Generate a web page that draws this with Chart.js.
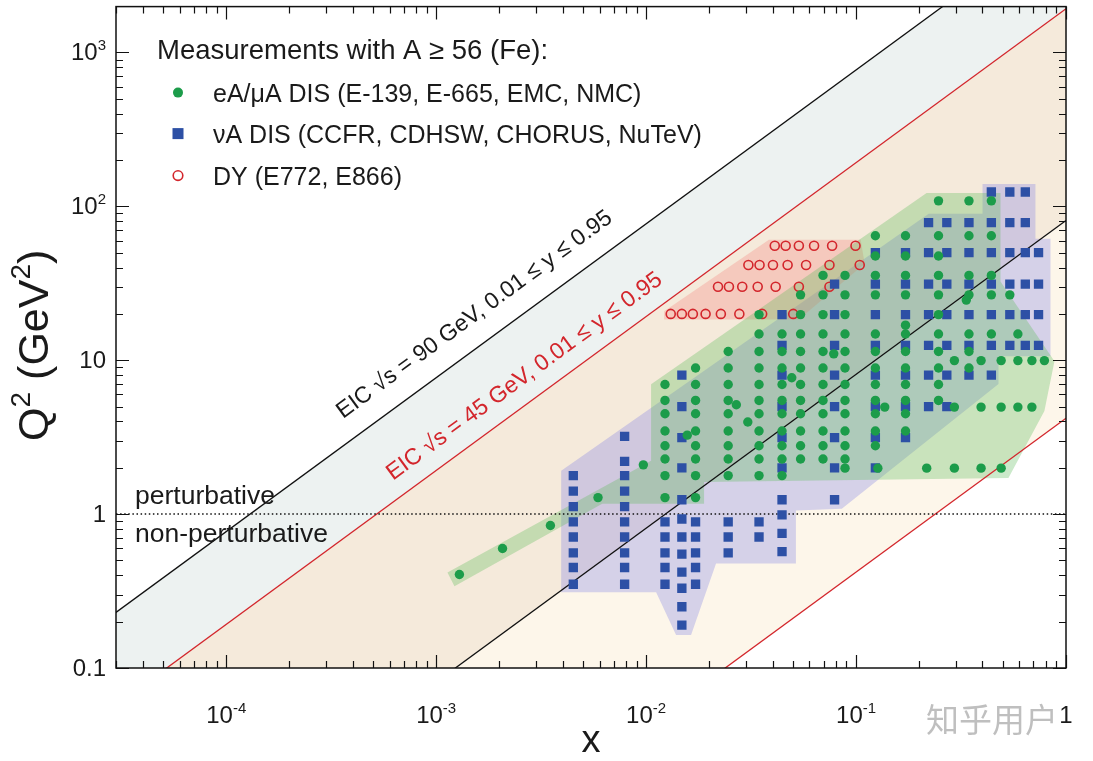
<!DOCTYPE html>
<html><head><meta charset="utf-8">
<script src="https://cdn.jsdelivr.net/npm/chart.js@4.4.1/dist/chart.umd.min.js"></script>
<style>html,body{margin:0;padding:0;background:#fff;}#wrap{width:1093px;height:761px;}</style>
</head><body><div id="wrap"><canvas id="c" width="1093" height="761"></canvas></div>
<script>
// ---------- axis ranges ----------
const xRange = [2.985e-5, 1];
const yRange = [0.1, 1987];
const xTickValues = [1e-4, 1e-3, 1e-2, 1e-1, 1];
const xTickLabels = ['10^-4', '10^-3', '10^-2', '10^-1', '1'];
const yTickValues = [0.1, 1, 10, 100, 1000];
const yTickLabels = ['0.1', '1', '10', '10^2', '10^3'];

// ---------- EIC kinematic limits (x, Q2) ----------
const eic90UpperX = [1e-5, 1];      const eic90UpperQ2 = [0.077, 7700];
const eic45UpperX = [1e-5, 1];      const eic45UpperQ2 = [0.0192, 1924];
const eic90LowerX = [1e-5, 1];      const eic90LowerQ2 = [0.00081, 81];
const eic45LowerX = [1e-5, 1];      const eic45LowerQ2 = [0.000042, 4.2];
const perturbX = [2.985e-5, 1];     const perturbQ2 = [1, 1];

// ---------- eA / muA DIS (green) : x columns and Q2 values ----------
const greenX = [0.00129, 0.00207, 0.0035, 0.0059, 0.0097, 0.0123, 0.0157, 0.0172, 0.0246, 0.0269, 0.0305, 0.0345, 0.0444, 0.0494, 0.0544, 0.0696, 0.0783, 0.0886, 0.1236, 0.127, 0.137, 0.172, 0.217, 0.247, 0.294, 0.335, 0.345, 0.394, 0.441, 0.491, 0.54, 0.59, 0.688, 0.789];
const greenQ2 = [
 [0.405],[0.598],[0.843],[1.28],[2.09],
 [6.96,5.48,4.49,3.47,2.78,2.28,1.78,1.28],
 [3.26],
 [8.9,6.96,5.48,4.49,3.47,2.78,2.28,1.78,1.28],
 [11.4,8.9,6.96,5.48,4.49,3.47,2.78,2.28,1.78],
 [5.14],[3.97],
 [19.8,14.8,11.4,8.9,6.96,5.48,4.49,3.47,2.78,2.28,1.78],
 [14.8,11.4,8.9,6.96,5.48,4.49,3.47,2.78,2.28,1.78],
 [7.7],
 [26.6,19.8,14.8,11.4,8.9,6.96,5.48,4.49,3.47,2.78,2.28],
 [35.6,26.6,19.8,14.8,11.4,8.9,6.96,5.48,4.49,3.47,2.78,2.28],
 [11.0],
 [35.6,26.6,19.8,14.8,11.4,8.9,6.96,5.48,4.49,3.47,2.78,2.28,1.99],
 [64.4,47.6,35.6,26.6,14.8,11.4,8.9,6.96,5.48,4.49,3.47,2.78],
 [1.99],[4.96],
 [64.4,47.6,35.6,26.6,16.9,14.8,11.4,8.9,6.96,5.48,4.49,3.47],
 [1.99],
 [108.6,64.4,47.6,35.6,26.6,19.8,14.8,11.4,8.9,6.96,5.48],
 [9.95,4.96,1.99],
 [24.6],
 [108.6,64.4,35.6,26.6,14.8,11.4,8.9],
 [9.95,4.96,1.99],
 [108.6,64.4,35.6,26.6,14.8],
 [9.95,4.96,1.99],
 [26.6],
 [14.8,9.95,4.96],
 [9.95,4.96],
 [9.95]
];

// ---------- nuA DIS (blue) ----------
const blueX = [0.0045, 0.0079, 0.0123, 0.0148, 0.0172, 0.0246, 0.0345, 0.0444, 0.079, 0.1236, 0.172, 0.2215, 0.2706, 0.345, 0.441, 0.54, 0.64, 0.74];
const blueQ2 = [
 [1.78,1.41,1.12,0.89,0.71,0.56,0.45,0.35],
 [3.2,2.2,1.78,1.41,1.12,0.89,0.71,0.56,0.45,0.35],
 [0.89,0.71,0.56,0.45,0.35],
 [8.0,5.0,3.14,2.0,1.24,0.93,0.71,0.55,0.42,0.33,0.25,0.19],
 [0.89,0.71,0.56,0.45,0.35],
 [0.89,0.71,0.56],
 [0.89,0.71],
 [19.8,12.5,8.0,5.0,3.14,2.0,1.24,0.99,0.75,0.57],
 [31.2,19.8,12.5,8.0,5.0,3.14,2.0,1.24],
 [50,31.2,19.8,12.5,8.0,5.0,3.14,2.0],
 [50,31.2,19.8,12.5,8.0,5.0,3.14],
 [78.5,50,31.2,19.8,12.5,8.0,5.0],
 [78.5,50,31.2,19.8,12.5,8.0,5.0],
 [78.5,50,31.2,19.8,12.5,8.0],
 [124,78.5,50,31.2,19.8,12.5,8.0],
 [124,78.5,50,31.2,19.8,12.5],
 [124,78.5,50,31.2,19.8,12.5],
 [50,31.2,19.8,12.5]
];

// ---------- Drell-Yan (red open circles): Q2 rows and x values ----------
const dyQ2 = [55.5, 41.6, 30.0, 20.0];
const dyX = [
 [0.0410,0.0462,0.0534,0.0631,0.0769,0.0994],
 [0.0307,0.0347,0.0402,0.0472,0.0578,0.0747,0.1041],
 [0.0220,0.0248,0.0287,0.0340,0.0414,0.0534,0.0747],
 [0.0131,0.0148,0.0167,0.0192,0.0227,0.0278,0.0357,0.0502]
];

// ---------- shaded coverage regions (polygon vertices) ----------
const greenRegionX  = [1.222e-3, 1.132e-3, 0.01056, 0.01056, 0.2168, 0.4875, 0.4875, 0.881, 0.789, 0.532, 0.01888, 0.01888, 6.18e-3];
const greenRegionQ2 = [0.340, 0.418, 2.22, 6.99, 122, 122, 32.5, 9.85, 4.68, 1.72, 1.62, 1.17, 1.17];
const blueRegionX  = [3.94e-3, 0.2218, 0.4004, 0.4004, 0.7154, 0.7154, 0.8434, 0.8434, 0.477, 0.477, 0.0855, 0.0517, 0.0517, 0.02153, 0.01637, 0.01389, 0.01116, 3.94e-3];
const blueRegionQ2 = [1.913, 89.4, 89.4, 140, 140, 61.6, 61.6, 10.6, 10.6, 7.0, 1.085, 1.054, 0.478, 0.478, 0.1636, 0.1636, 0.3104, 0.3104];
const redRegionX  = [0.03846, 0.1052, 0.1099, 0.0534, 0.01218, 0.01218];
const redRegionQ2 = [60.7, 60.7, 42.4, 18.4, 18.4, 20.8];

// ---------- text ----------
const legendTitle = 'Measurements with A \u2265 56 (Fe):';
const legendItems = ['eA/\u03bcA DIS (E-139, E-665, EMC, NMC)', '\u03bdA DIS (CCFR, CDHSW, CHORUS, NuTeV)', 'DY (E772, E866)'];
const label90 = 'EIC \u221as = 90 GeV, 0.01 \u2264 y \u2264 0.95';
const label45 = 'EIC \u221as = 45 GeV, 0.01 \u2264 y \u2264 0.95';
const label90Pos = [3.6e-4, 4.15];
const label45Pos = [6.22e-4, 1.647];

const GREEN = '#1c9c4a', BLUE = '#2d50a5', RED = '#d3262c';
const FONT = '"Liberation Sans", Arial, Helvetica, sans-serif';

function zipXY(xs, ys) { return xs.map((x, i) => ({x, y: ys[i]})); }
function columns(xs, lists) { const out = []; xs.forEach((x, i) => lists[i].forEach(q => out.push({x, y: q}))); return out; }
function rows(ys, lists) { const out = []; ys.forEach((q, i) => lists[i].forEach(x => out.push({x, y: q}))); return out; }

const lineBase = {pointRadius: 0, pointHoverRadius: 0, tension: 0, showLine: true};

const datasets = [
  {label: 'green', data: columns(greenX, greenQ2), showLine: false, pointStyle: 'circle', pointRadius: 4.7, backgroundColor: GREEN, borderWidth: 0, order: 0},
  {label: 'blue', data: columns(blueX, blueQ2), showLine: false, pointStyle: 'rect', pointRadius: 6.6, backgroundColor: BLUE, borderWidth: 0, order: 1},
  {label: 'dy', data: rows(dyQ2, dyX), showLine: false, pointStyle: 'circle', pointRadius: 4.5, backgroundColor: 'rgba(0,0,0,0)', borderColor: RED, borderWidth: 1.6, order: 2},
  Object.assign({label: 'eic90up', data: zipXY(eic90UpperX, eic90UpperQ2), borderColor: '#111', borderWidth: 1.3, fill: '+1', backgroundColor: '#edf2f1', order: 20}, lineBase),
  Object.assign({label: 'eic45up', data: zipXY(eic45UpperX, eic45UpperQ2), borderColor: RED, borderWidth: 1.3, fill: '+1', backgroundColor: '#f5eadb', order: 21}, lineBase),
  Object.assign({label: 'eic90lo', data: zipXY(eic90LowerX, eic90LowerQ2), borderColor: '#111', borderWidth: 1.3, fill: '+1', backgroundColor: '#fdf6ea', order: 22}, lineBase),
  Object.assign({label: 'eic45lo', data: zipXY(eic45LowerX, eic45LowerQ2), borderColor: RED, borderWidth: 1.3, fill: false, order: 23}, lineBase),
  Object.assign({label: 'perturb', data: zipXY(perturbX, perturbQ2), borderColor: '#111', borderWidth: 1.5, borderDash: [1.5, 2.6], fill: false, order: 8}, lineBase),
  Object.assign({label: 'greenRegion', data: zipXY(greenRegionX, greenRegionQ2), borderWidth: 0, borderColor: 'rgba(0,0,0,0)', fill: 'shape', backgroundColor: 'rgba(93,186,90,0.32)', order: 5}, lineBase),
  Object.assign({label: 'redRegion', data: zipXY(redRegionX, redRegionQ2), borderWidth: 0, borderColor: 'rgba(0,0,0,0)', fill: 'shape', backgroundColor: 'rgba(245,125,120,0.3)', order: 6}, lineBase),
  Object.assign({label: 'blueRegion', data: zipXY(blueRegionX, blueRegionQ2), borderWidth: 0, borderColor: 'rgba(0,0,0,0)', fill: 'shape', backgroundColor: 'rgba(123,124,228,0.3)', order: 7}, lineBase)
];

function parts(label) {
  const p = label.split('^');
  return p.length > 1 ? [[p[0], false], [p[1], true]] : [[label, false]];
}
function drawRich(ctx, segs, x, y, size, align, color, supScale) {
  const sup = Math.round(size * (supScale || 0.64));
  let w = 0;
  for (const [t, s] of segs) { ctx.font = (s ? sup : size) + 'px ' + FONT; w += ctx.measureText(t).width; }
  let cx = align === 'right' ? x - w : align === 'center' ? x - w / 2 : x;
  ctx.textAlign = 'left'; ctx.textBaseline = 'alphabetic'; ctx.fillStyle = color;
  for (const [t, s] of segs) {
    ctx.font = (s ? sup : size) + 'px ' + FONT;
    ctx.fillText(t, cx, s ? y - size * 0.42 : y);
    cx += ctx.measureText(t).width;
  }
}

const deco = {
  id: 'deco',
  afterDatasetsDraw(chart) {
    const ctx = chart.ctx, a = chart.chartArea, xs = chart.scales.x, ys = chart.scales.y;
    ctx.save();
    // rotated EIC labels
    const ang = Math.atan2(ys.getPixelForValue(10) - ys.getPixelForValue(1), xs.getPixelForValue(0.1) - xs.getPixelForValue(0.01));
    [[label90, label90Pos, '#1a1a1a'], [label45, label45Pos, RED]].forEach(([t, pos, col]) => {
      ctx.save();
      ctx.translate(xs.getPixelForValue(pos[0]), ys.getPixelForValue(pos[1]));
      ctx.rotate(ang);
      ctx.font = '23px ' + FONT; ctx.fillStyle = col; ctx.textAlign = 'left'; ctx.textBaseline = 'alphabetic';
      ctx.fillText(t, 0, 0);
      ctx.restore();
    });
    // perturbative labels
    const y1 = ys.getPixelForValue(1);
    ctx.font = '26.5px ' + FONT; ctx.fillStyle = '#1a1a1a'; ctx.textAlign = 'left'; ctx.textBaseline = 'alphabetic';
    ctx.fillText('perturbative', a.left + 19, y1 - 10);
    ctx.fillText('non-perturbative', a.left + 19, y1 + 28);
    // legend
    ctx.font = '27.5px ' + FONT;
    ctx.fillText(legendTitle, a.left + 41, a.top + 52);
    ctx.font = '25px ' + FONT;
    const ly = [a.top + 86, a.top + 127, a.top + 169];
    legendItems.forEach((t, i) => { ctx.fillStyle = '#1a1a1a'; ctx.fillText(t, a.left + 97, ly[i] + 9); });
    ctx.fillStyle = GREEN; ctx.beginPath(); ctx.arc(a.left + 62, ly[0], 5, 0, Math.PI * 2); ctx.fill();
    ctx.fillStyle = BLUE; ctx.fillRect(a.left + 62 - 5.5, ly[1] - 5.5, 11, 11);
    ctx.strokeStyle = RED; ctx.lineWidth = 1.6; ctx.beginPath(); ctx.arc(a.left + 62, ly[2], 4.8, 0, Math.PI * 2); ctx.stroke();
    // ticks (inward, all four sides)
    ctx.strokeStyle = '#111'; ctx.lineWidth = 1.2;
    ctx.beginPath();
    for (let d = -5; d <= 0; d++) for (let k = 1; k <= 9; k++) {
      const v = k * Math.pow(10, d);
      if (v < xRange[0] * 0.999 || v > xRange[1] * 1.001) continue;
      const px = Math.round(xs.getPixelForValue(v)) + 0.5, L = k === 1 ? 13 : 7;
      ctx.moveTo(px, a.bottom); ctx.lineTo(px, a.bottom - L);
      ctx.moveTo(px, a.top); ctx.lineTo(px, a.top + L);
    }
    for (let d = -1; d <= 3; d++) for (let k = 1; k <= 9; k++) {
      const v = k * Math.pow(10, d);
      if (v < yRange[0] * 0.999 || v > yRange[1] * 1.001) continue;
      const py = Math.round(ys.getPixelForValue(v)) + 0.5, L = k === 1 ? 13 : 7;
      ctx.moveTo(a.left, py); ctx.lineTo(a.left + L, py);
      ctx.moveTo(a.right, py); ctx.lineTo(a.right - L, py);
    }
    ctx.stroke();
    // frame
    ctx.lineWidth = 1.5;
    ctx.strokeRect(a.left, a.top, a.right - a.left, a.bottom - a.top);
    // tick labels
    yTickValues.forEach((v, i) => drawRich(ctx, parts(yTickLabels[i]), a.left - 10, ys.getPixelForValue(v) + 8, 24, 'right', '#1a1a1a'));
    xTickValues.forEach((v, i) => drawRich(ctx, parts(xTickLabels[i]), xs.getPixelForValue(v), a.bottom + 55, 24, 'center', '#1a1a1a'));
    // axis titles
    ctx.save();
    ctx.translate(a.left - 68, (a.top + a.bottom) / 2 + 8);
    ctx.rotate(-Math.PI / 2);
    drawRich(ctx, [['Q', false], ['2', true], [' (GeV', false], ['2', true], [')', false]], 0, 0, 43, 'center', '#1a1a1a', 0.66);
    ctx.restore();
    ctx.font = '38px ' + FONT; ctx.fillStyle = '#1a1a1a'; ctx.textAlign = 'center';
    ctx.fillText('x', (a.left + a.right) / 2, a.bottom + 84);
    // watermark
    ctx.font = '33px "Noto Sans CJK SC", sans-serif'; ctx.fillStyle = 'rgba(175,175,175,0.8)'; ctx.textAlign = 'left';
    ctx.fillText('知乎用户', 926, 732);
    ctx.restore();
  }
};

new Chart(document.getElementById('c'), {
  type: 'line',
  data: {datasets},
  options: {
    responsive: false, devicePixelRatio: 1, animation: false,
    layout: {padding: {left: 116, right: 27, top: 4, bottom: 93}},
    scales: {
      x: {type: 'logarithmic', min: xRange[0], max: xRange[1], display: false},
      y: {type: 'logarithmic', min: yRange[0], max: yRange[1], display: false}
    },
    plugins: {legend: {display: false}, tooltip: {enabled: false}, filler: {drawTime: 'beforeDatasetsDraw'}},
    events: []
  },
  plugins: [deco]
});
</script></body></html>
